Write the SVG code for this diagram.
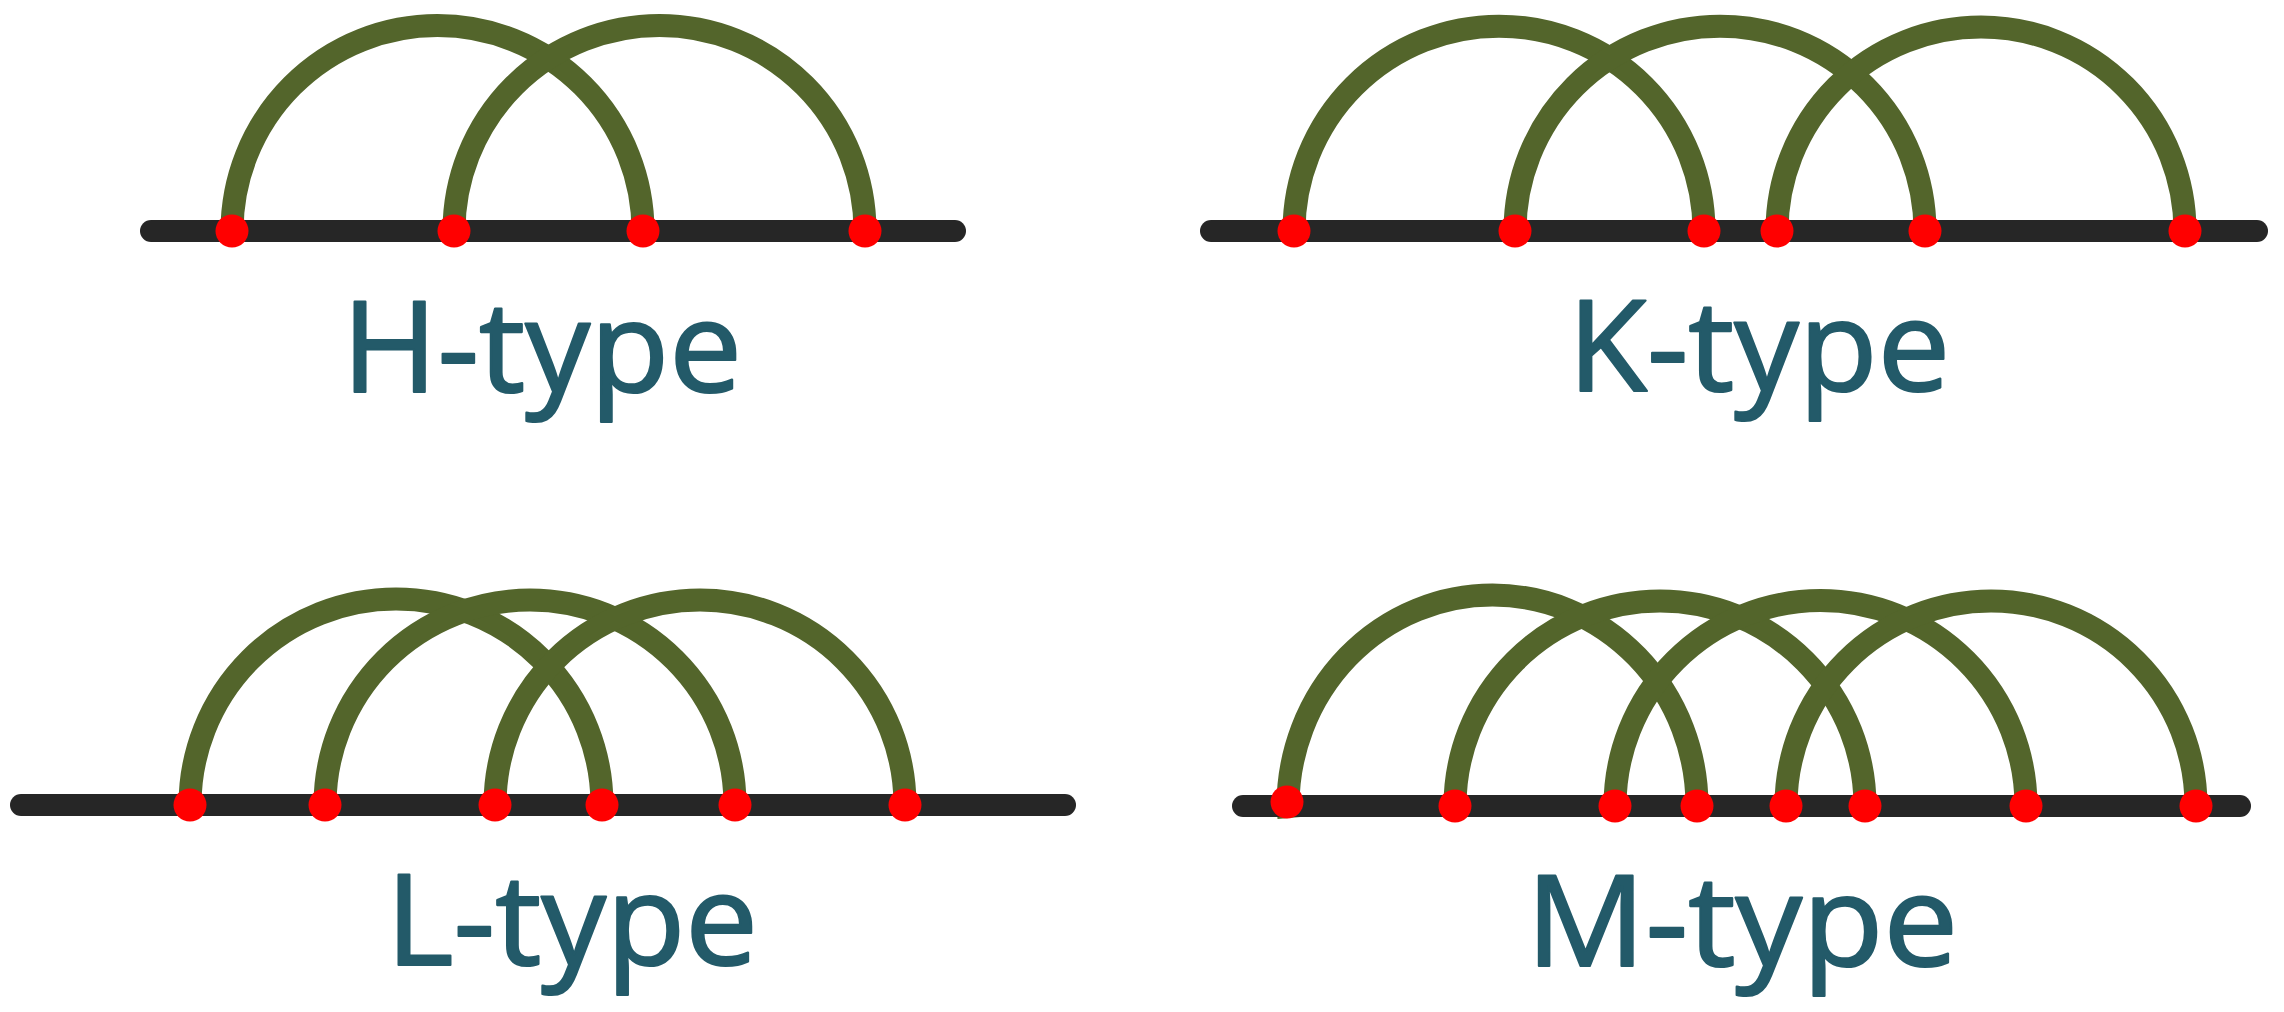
<svg xmlns="http://www.w3.org/2000/svg" width="2284" height="1012" viewBox="0 0 2284 1012">
<style>
.arc{fill:none;stroke:#53652B;stroke-width:23;stroke-linecap:butt}
.base{fill:none;stroke:#262626;stroke-width:22;stroke-linecap:round}
.dot{fill:#FF0000}
.lbl{font-family:"Open Sans","Noto Sans",sans-serif;font-size:127px;fill:#235A69;stroke:#235A69;stroke-width:2.2;stroke-linejoin:round}
</style>
<rect width="2284" height="1012" fill="#ffffff"/>
<g id="connectors">
<path class="arc" d="M232,231 A205.5,205.5 0 0 1 643,231"/>
<path class="arc" d="M454,231 A205.5,205.5 0 0 1 865,231"/>
<path class="arc" d="M1294,231 A205,205 0 0 1 1704,231"/>
<path class="arc" d="M1515,231 A205,205 0 0 1 1925,231"/>
<path class="arc" d="M1777,231 A204,204 0 0 1 2185,231"/>
<path class="arc" d="M190,805 A206,206 0 0 1 602,805"/>
<path class="arc" d="M325,805 A205,205 0 0 1 735,805"/>
<path class="arc" d="M495,805 A205,205 0 0 1 905,805"/>
<path class="arc" d="M1289,818 L1288,806 A204.5,211 0 0 1 1697,806"/>
<path class="arc" d="M1455,806 A205,205 0 0 1 1865,806"/>
<path class="arc" d="M1615,806 A205.5,205.5 0 0 1 2026,806"/>
<path class="arc" d="M1786,806 A205,205 0 0 1 2196,806"/>
</g>
<g id="H-type">
<line class="base" x1="151" y1="231" x2="955" y2="231"/>
<circle class="dot" cx="232" cy="231" r="16.5"/>
<circle class="dot" cx="454" cy="231" r="16.5"/>
<circle class="dot" cx="643" cy="231" r="16.5"/>
<circle class="dot" cx="865" cy="231" r="16.5"/>
<text class="lbl" x="342" y="392" textLength="400" lengthAdjust="spacingAndGlyphs">H-type</text>
</g>
<g id="K-type">
<line class="base" x1="1211" y1="231" x2="2257" y2="231"/>
<circle class="dot" cx="1294" cy="231" r="16.5"/>
<circle class="dot" cx="1515" cy="231" r="16.5"/>
<circle class="dot" cx="1704" cy="231" r="16.5"/>
<circle class="dot" cx="1777" cy="231" r="16.5"/>
<circle class="dot" cx="1925" cy="231" r="16.5"/>
<circle class="dot" cx="2185" cy="231" r="16.5"/>
<text class="lbl" x="1568" y="391" textLength="382" lengthAdjust="spacingAndGlyphs">K-type</text>
</g>
<g id="L-type">
<line class="base" x1="21" y1="805" x2="1065" y2="805"/>
<circle class="dot" cx="190" cy="805" r="16.5"/>
<circle class="dot" cx="325" cy="805" r="16.5"/>
<circle class="dot" cx="495" cy="805" r="16.5"/>
<circle class="dot" cx="602" cy="805" r="16.5"/>
<circle class="dot" cx="735" cy="805" r="16.5"/>
<circle class="dot" cx="905" cy="805" r="16.5"/>
<text class="lbl" x="386" y="965" textLength="372" lengthAdjust="spacingAndGlyphs">L-type</text>
</g>
<g id="M-type">
<line class="base" x1="1243" y1="806" x2="2240" y2="806"/>
<circle class="dot" cx="1287" cy="802" r="16.5"/>
<circle class="dot" cx="1455" cy="806" r="16.5"/>
<circle class="dot" cx="1615" cy="806" r="16.5"/>
<circle class="dot" cx="1697" cy="806" r="16.5"/>
<circle class="dot" cx="1786" cy="806" r="16.5"/>
<circle class="dot" cx="1865" cy="806" r="16.5"/>
<circle class="dot" cx="2026" cy="806" r="16.5"/>
<circle class="dot" cx="2196" cy="806" r="16.5"/>
<text class="lbl" x="1526" y="966" textLength="432" lengthAdjust="spacingAndGlyphs">M-type</text>
</g>
</svg>
